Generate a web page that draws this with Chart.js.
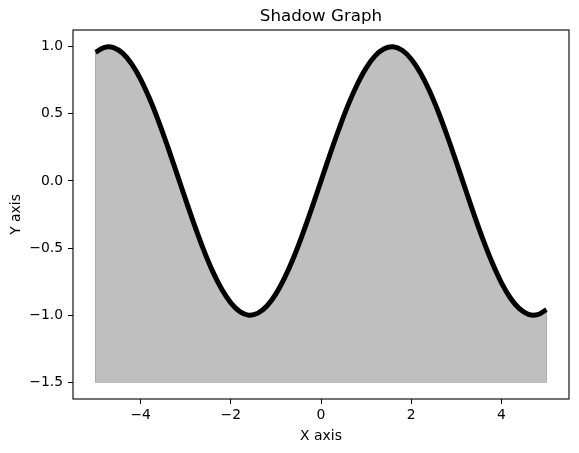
<!DOCTYPE html>
<html>
<head>
<meta charset="utf-8">
<script src="https://cdn.jsdelivr.net/npm/chart.js@4/dist/chart.umd.min.js"></script>
<style>
  body { margin: 0; background: #fff; }
  canvas { display: block; }
</style>
</head>
<body>
<canvas id="shadowChart" width="579" height="453"></canvas>
<script>
// valores
var xValues = [-5.0, -4.8, -4.6, -4.4, -4.2, -4.0, -3.8, -3.6, -3.4, -3.2,
               -3.0, -2.8, -2.6, -2.4, -2.2, -2.0, -1.8, -1.6, -1.4, -1.2,
               -1.0, -0.8, -0.6, -0.4, -0.2, 0.0, 0.2, 0.4, 0.6, 0.8,
               1.0, 1.2, 1.4, 1.6, 1.8, 2.0, 2.2, 2.4, 2.6, 2.8,
               3.0, 3.2, 3.4, 3.6, 3.8, 4.0, 4.2, 4.4, 4.6, 4.8, 5.0];
var yValues = [0.959, 0.996, 0.994, 0.952, 0.872, 0.757, 0.612, 0.443, 0.256, 0.058,
               -0.141, -0.335, -0.516, -0.676, -0.808, -0.909, -0.974, -1.000, -0.985, -0.932,
               -0.841, -0.717, -0.565, -0.389, -0.199, 0.000, 0.199, 0.389, 0.565, 0.717,
               0.841, 0.932, 0.985, 1.000, 0.974, 0.909, 0.808, 0.676, 0.516, 0.335,
               0.141, -0.058, -0.256, -0.443, -0.612, -0.757, -0.872, -0.952, -0.994, -0.996, -0.959];
var shadowBase = -1.5;
var xTicks = [-4, -2, 0, 2, 4];
var yTicks = [-1.5, -1.0, -0.5, 0.0, 0.5, 1.0];

var curve = xValues.map(function(x, i) { return {x: x, y: yValues[i]}; });
var last = xValues.length - 1;
var edge = [
    {x: xValues[0], y: yValues[0]},
    {x: xValues[0], y: shadowBase},
    {x: xValues[last], y: shadowBase},
    {x: xValues[last], y: yValues[last]}
];

function minus(s) { return String(s).replace('-', '\u2212'); }

var tickFont = {family: "'DejaVu Sans', sans-serif", size: 13.9};

// titulo y marco como en matplotlib
var framePlugin = {
    id: 'frame',
    afterDraw: function(chart) {
        var a = chart.chartArea, ctx = chart.ctx;
        ctx.save();
        ctx.strokeStyle = '#000';
        ctx.lineWidth = 1.1;
        ctx.strokeRect(a.left, a.top, a.right - a.left, a.bottom - a.top);
        ctx.fillStyle = '#000';
        ctx.font = "16.7px 'DejaVu Sans', sans-serif";
        ctx.textAlign = 'center';
        ctx.textBaseline = 'middle';
        ctx.fillText('Shadow Graph', (a.left + a.right) / 2, 17);
        ctx.restore();
    }
};

var ctx = document.getElementById('shadowChart').getContext('2d');
var chart = new Chart(ctx, {
    type: 'line',
    data: {
        datasets: [{
            data: curve,
            borderColor: '#000',
            borderWidth: 5,
            pointRadius: 0,
            tension: 0.4,
            fill: {value: shadowBase},
            backgroundColor: '#bfbfbf'
        }, {
            data: edge,
            borderColor: '#a4a4a4',
            borderWidth: 1,
            pointRadius: 0,
            tension: 0,
            fill: false
        }]
    },
    options: {
        responsive: false,
        animation: false,
        devicePixelRatio: 1,
        layout: {padding: {top: 30, right: 10, left: 0, bottom: 0}},
        plugins: {
            legend: {display: false},
            tooltip: {enabled: false}
        },
        scales: {
            x: {
                type: 'linear',
                min: -5.5,
                max: 5.5,
                border: {display: false},
                grid: {drawOnChartArea: false, drawTicks: true, tickLength: 5, color: '#000'},
                afterBuildTicks: function(scale) {
                    scale.ticks = xTicks.map(function(v) { return {value: v}; });
                },
                afterFit: function(scale) { scale.height = 54; },
                ticks: {
                    color: '#000',
                    font: tickFont,
                    padding: 3,
                    maxRotation: 0,
                    callback: function(v) { return minus(v); }
                },
                title: {
                    display: true,
                    text: 'X axis',
                    color: '#000',
                    font: tickFont,
                    padding: {top: 0, bottom: 8.5}
                }
            },
            y: {
                type: 'linear',
                min: -1.625,
                max: 1.125,
                border: {display: false},
                grid: {drawOnChartArea: false, drawTicks: true, tickLength: 5, color: '#000'},
                afterBuildTicks: function(scale) {
                    scale.ticks = yTicks.map(function(v) { return {value: v}; });
                },
                afterFit: function(scale) { scale.width = 73; },
                ticks: {
                    color: '#000',
                    font: tickFont,
                    padding: 5,
                    callback: function(v) { return minus(Number(v).toFixed(1)); }
                },
                title: {
                    display: true,
                    text: 'Y axis',
                    color: '#000',
                    font: tickFont,
                    padding: {top: 8.5, bottom: 0}
                }
            }
        }
    },
    plugins: [framePlugin]
});
</script>
</body>
</html>
